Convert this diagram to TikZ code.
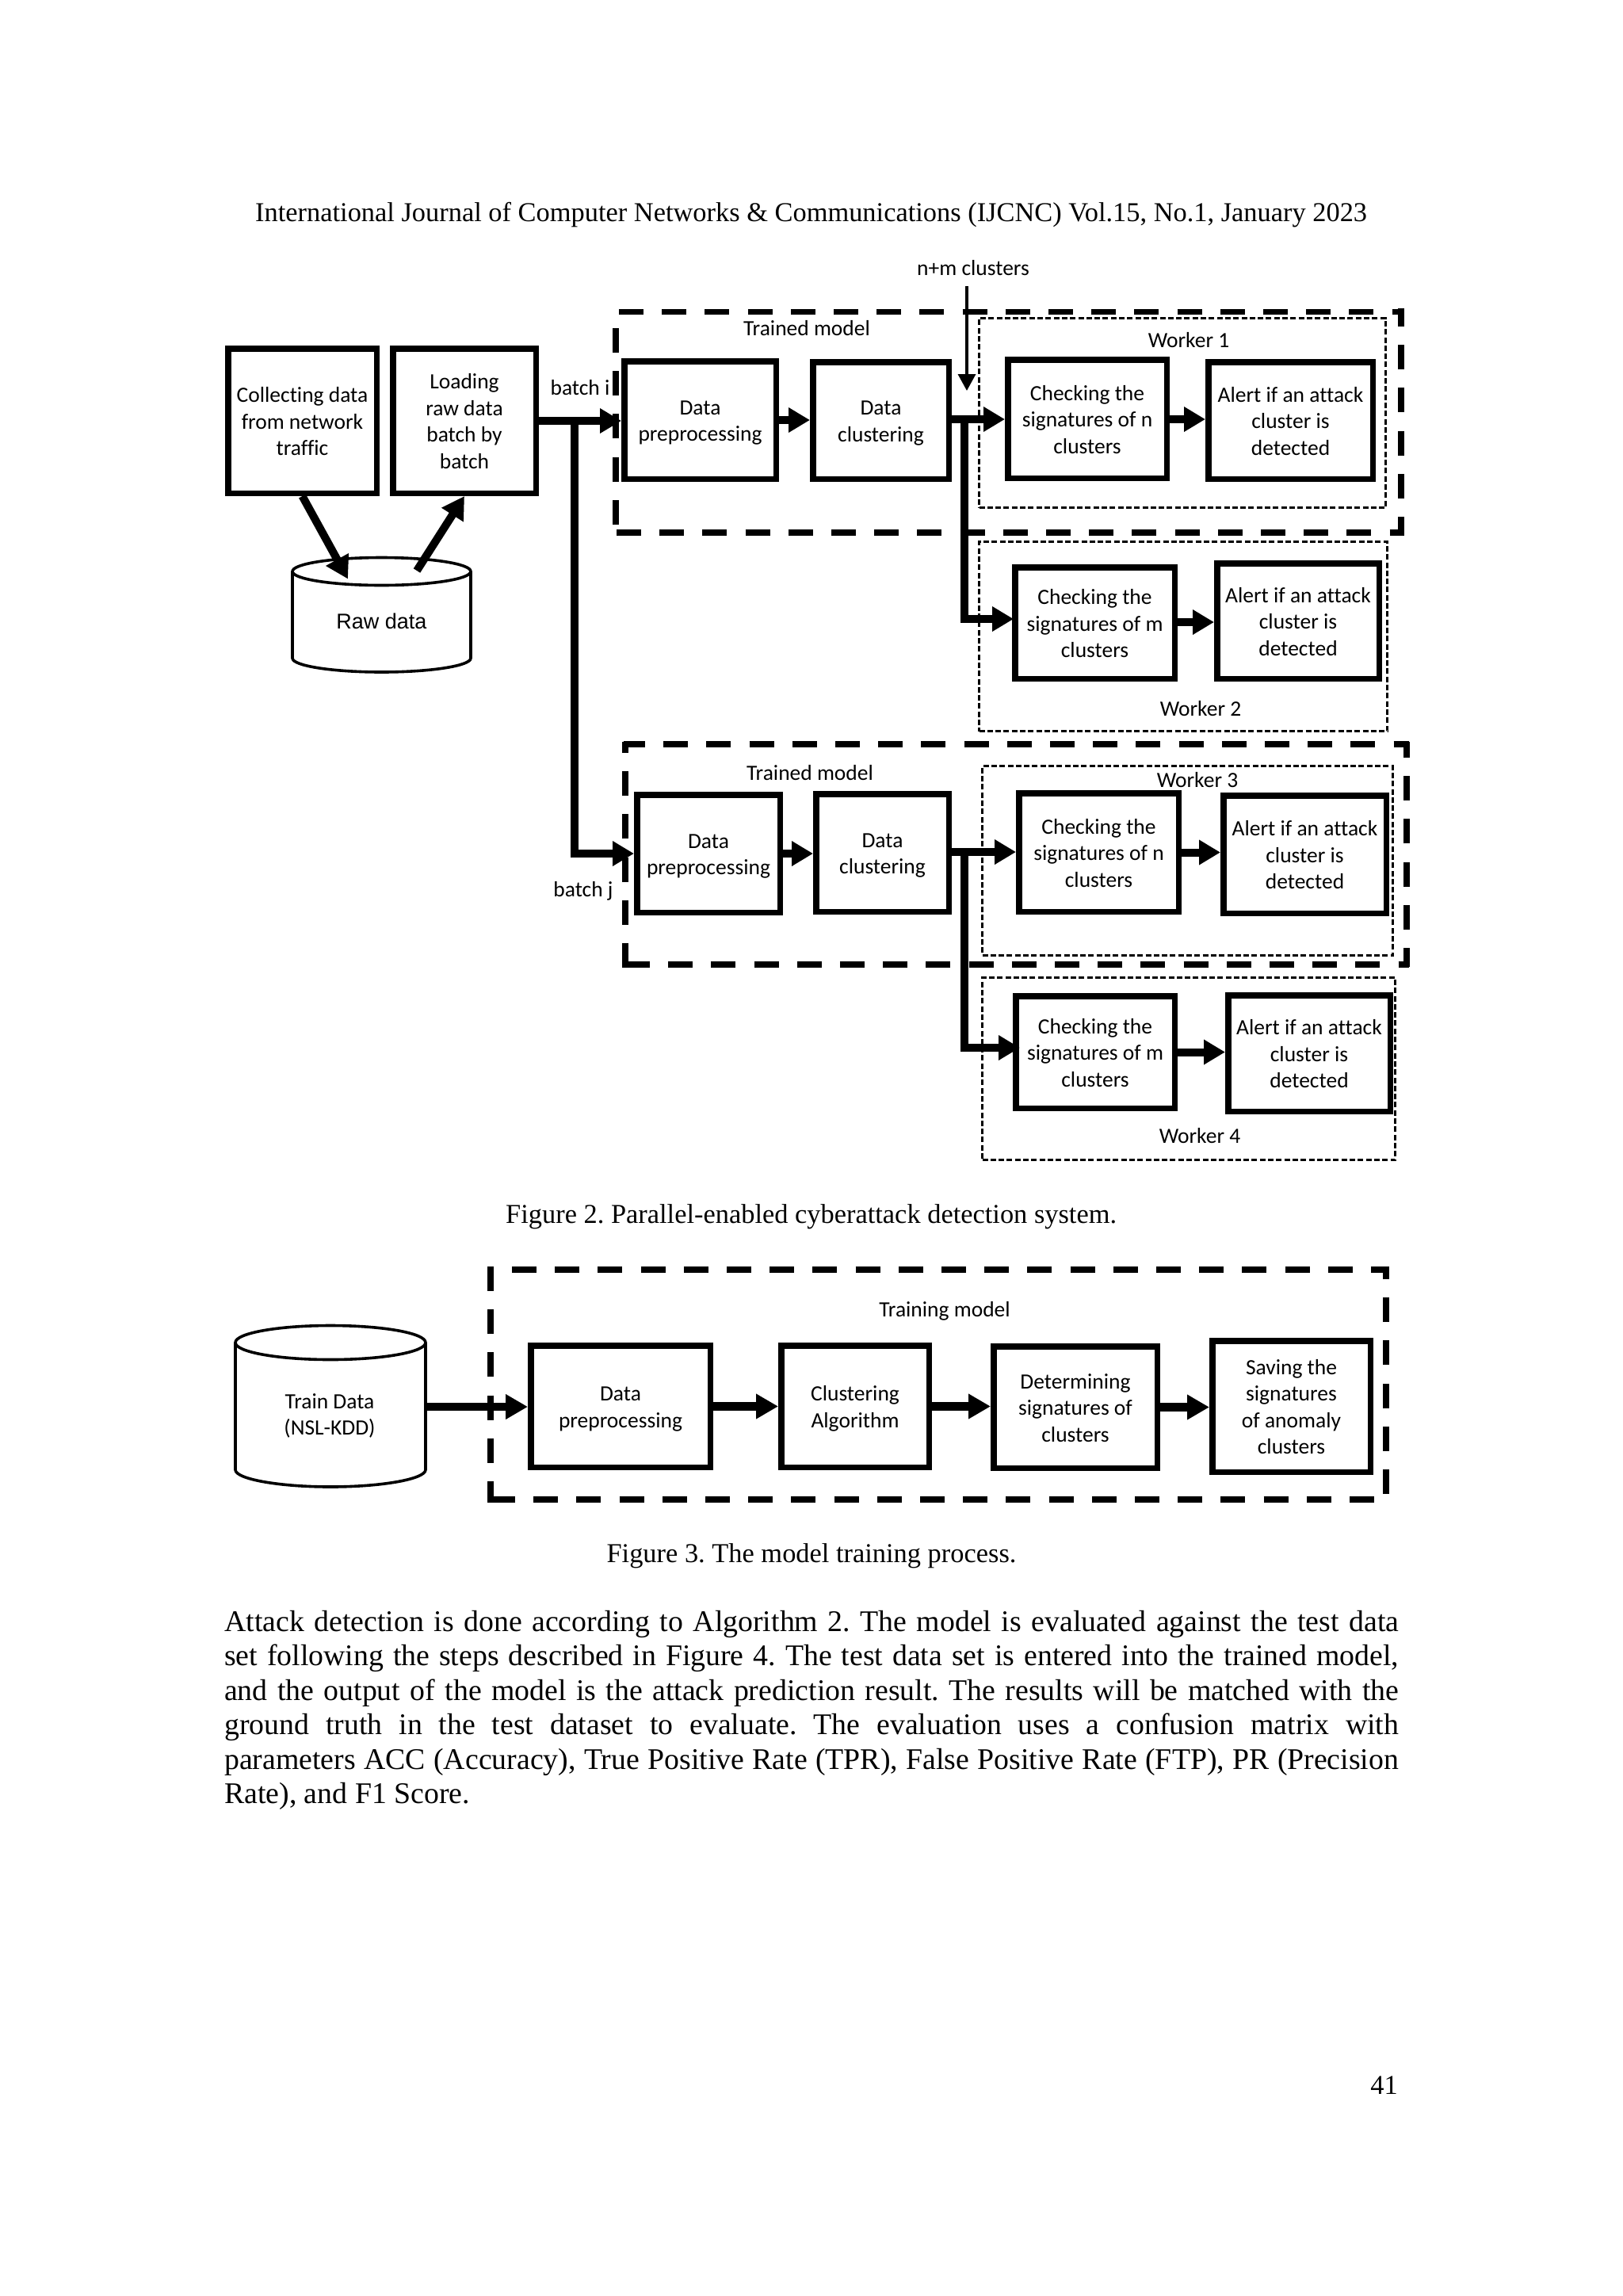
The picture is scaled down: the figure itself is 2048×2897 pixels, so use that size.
\documentclass[tikz,border=0pt]{standalone}
\usepackage{fontspec}
\setmainfont[Ligatures=NoCommon]{Carlito}
\newfontfamily\serifpage{Liberation Serif}
\newfontfamily\arialish{Liberation Sans}
\usetikzlibrary{arrows.meta,calc}
\newcommand\lab{\fontsize{27.5}{33.5}\selectfont}
\newcommand\bodyf{\serifpage\fontsize{37.8}{43.4}\selectfont\frenchspacing}
\newcommand\smallf{\serifpage\fontsize{34.4}{40}\selectfont\frenchspacing}
\tikzset{
  box/.style={draw=black,line width=7.5pt,inner sep=0pt,align=center,font=\lab},
  workerbox/.style={draw=black,line width=3pt,dash pattern=on 7pt off 3.3pt,inner sep=0pt},
  heavydash/.style={draw=black,line width=7.8pt,dash pattern=on 31pt off 23.2pt},
  conn/.style={draw=black,line width=10pt,-{Triangle[length=27pt,width=30pt]}},
  thinconn/.style={draw=black,line width=3.5pt,-{Triangle[length=21pt,width=22pt]}},
  bigconn/.style={draw=black,line width=10.7pt,-{Triangle[length=28pt,width=30pt]}},
  drum/.style={draw=black,line width=3.6pt},
  tag/.style={inner sep=0pt,font=\lab},
  pagetext/.style={inner sep=0pt,anchor=base west,font=\bodyf},
  smalltext/.style={inner sep=0pt,anchor=base west,font=\smallf},
}
\newcommand\bx[6]{\node[box,minimum width={(#4-#2-7.5)*1pt},minimum height={(#5-#3-7.5)*1pt}] (#1) at ({(#2+#4)/2},{(#3+#5)/2}) {\raisebox{-9.7pt}[0pt][0pt]{\begin{tabular}{@{}c@{}}#6\end{tabular}}};}
\newcommand\wk[5]{\node[workerbox,minimum width={(#4-#2-3)*1pt},minimum height={(#5-#3-3)*1pt}] (#1) at ({(#2+#4)/2},{(#3+#5)/2}) {};}
\newcommand\jl[1]{\hbox to 1482pt{#1}}
\begin{document}
\begin{tikzpicture}[x=1pt,y=-1pt]
\useasboundingbox (0,0) rectangle (2048,2897);
\fill[white] (0,0) rectangle (2048,2897);

% page text
\node[smalltext] (head) at (322,279) {International Journal of Computer Networks \& Communications (IJCNC) Vol.15, No.1, January 2023};
\node[smalltext,anchor=base west] (cap2) at (638,1543) {Figure 2. Parallel-enabled cyberattack detection system.};
\node[smalltext,anchor=base] (cap3) at (1024,1971) {Figure 3. The model training process.};
\node[pagetext] (l1) at (283,2058) {\jl{Attack detection is done according to Algorithm 2. The model is evaluated against the test data}};
\node[pagetext] (l2) at (283,2101.5) {\jl{set following the steps described in Figure 4. The test data set is entered into the trained model,}};
\node[pagetext] (l3) at (283,2145) {\jl{and the output of the model is the attack prediction result. The results will be matched with the}};
\node[pagetext] (l4) at (283,2188.5) {\jl{ground truth in the test dataset to evaluate. The evaluation uses a confusion matrix with}};
\node[pagetext] (l5) at (283,2232) {\jl{parameters ACC (Accuracy), True Positive Rate (TPR), False Positive Rate (FTP), PR (Precision}};
\node[pagetext] (l6) at (283,2275) {Rate), and F1 Score.};
\node[smalltext,anchor=base east] (pnum) at (1764,2642) {41};

% Figure 2: heavy dashed frames
\draw[heavydash] (777,414) -- (777,664);
\draw[heavydash] (778,672) -- (1772,672);
\draw[heavydash,dash phase=8pt] (1768,389) -- (1768,676);
\draw[heavydash] (781,393.5) -- (1772,393.5);

\draw[heavydash] (789,1221) -- (789,936);
\draw[heavydash] (789,1217) -- (1778,1217);
\draw[heavydash,dash phase=7pt] (1775,1220) -- (1775,936);
\draw[heavydash,dash phase=4pt] (787,939) -- (1778,939);

% workers
\wk{w1}{1234}{400}{1750}{642}
\wk{w2}{1234}{682}{1752}{924}
\wk{w3}{1238}{965}{1759}{1207}
\wk{w4}{1238}{1232}{1762}{1465}

% boxes
\bx{collect}{284}{436}{479}{626}{Collecting data\\from network\\traffic}
\bx{load}{492}{436}{680}{626}{Loading\\raw data\\batch by\\batch}
\bx{pre1}{784}{452}{983}{608}{Data\\preprocessing}
\bx{clu1}{1022}{453}{1201}{608}{Data\\clustering}
\bx{chk1}{1268}{450}{1476}{607}{Checking the\\signatures of n\\clusters}
\bx{alt1}{1521}{453}{1736}{608}{Alert if an attack\\cluster is\\detected}
\bx{chk2}{1277}{712}{1486}{860}{Checking the\\signatures of m\\clusters}
\bx{alt2}{1532}{707}{1744}{860}{Alert if an attack\\cluster is\\detected}
\bx{pre2}{800}{999}{988}{1155}{Data\\preprocessing}
\bx{clu2}{1026}{998}{1201}{1154}{Data\\clustering}
\bx{chk3}{1282}{997}{1491}{1154}{Checking the\\signatures of n\\clusters}
\bx{alt3}{1540}{1000}{1753}{1156}{Alert if an attack\\cluster is\\detected}
\bx{chk4}{1278}{1253}{1486}{1402}{Checking the\\signatures of m\\clusters}
\bx{alt4}{1546}{1252}{1758}{1406}{Alert if an attack\\cluster is\\detected}

% raw data drum
\draw[drum] (481.5,721) ellipse [x radius=112.5pt,y radius=17.5pt];
\draw[drum] (369,721) -- (369,830.5) .. controls (369,840) and (419,848) .. (481.5,848) .. controls (544,848) and (594,840) .. (594,830.5) -- (594,721);
\node[tag,font=\arialish\fontsize{27}{33.5}\selectfont] (raw) at (481.5,784) {Raw data};
\coordinate (rawin) at (439,730.5);
\coordinate (rawout) at (526,720);

% labels
\node[tag] (batchi) at (732,489.5) {batch i};
\node[tag] (batchj) at (736,1124.5) {batch j};
\node[tag] (tm1) at (1018,414.5) {Trained model};
\node[tag] (tm2) at (1022,975.5) {Trained model};
\node[tag] (nm) at (1228,338.5) {n+m clusters};
\node[tag] (wl1) at (1500,429.5) {Worker 1};
\node[tag] (wl2) at (1515,894.5) {Worker 2};
\node[tag] (wl3) at (1511,984.5) {Worker 3};
\node[tag] (wl4) at (1514,1433.5) {Worker 4};

% connectors figure 2
\draw[conn,-{Triangle[length=28pt,width=31pt]}] (collect.south) -- (rawin);
\draw[conn,-{Triangle[length=28pt,width=31pt]}] (rawout) -- (load.south);
\coordinate (j1) at (725,531);
\coordinate (j2) at (1217,529);
\coordinate (j3) at (1217,1075);
\coordinate (chk2in) at (1279,781);
\coordinate (chk4in) at (1287,1322);
\coordinate (nmtop) at (1220,361);
\coordinate (nmtip) at (1220,493);
\coordinate (lane) at (0,785);
\draw[conn] (load.east) -- (load.east -| pre1.west);
\draw[conn] (j1) |- (pre2.west);
\draw[conn] (pre1.east) -- (pre1.east -| clu1.west);
\draw[conn] (clu1.east |- j2) -- (j2 -| chk1.west);
\draw[conn] (j2) |- (chk2in);
\draw[conn] (chk1.east |- j2) -- (j2 -| alt1.west);
\draw[conn] (chk2.east |- lane) -- (alt2.west |- lane);
\draw[thinconn] (nmtop) -- (nmtip);
\draw[conn] (pre2.east) -- (pre2.east -| clu2.west);
\draw[conn] (clu2.east |- j3) -- (j3 -| chk3.west);
\draw[conn] (j3) |- (chk4in);
\draw[conn] (chk3.east) -- (chk3.east -| alt3.west);
\draw[conn] (chk4.east) -- (chk4.east -| alt4.west);

% Figure 3
\draw[heavydash] (619,1598) -- (619,1896);
\draw[heavydash] (619,1892) -- (1735,1892);
\draw[heavydash] (1749,1885) -- (1749,1598);
\draw[heavydash] (646,1602) -- (1753,1602);
\node[tag] (tm3) at (1192,1654) {Training model};
\draw[drum] (417,1694) ellipse [x radius=120pt,y radius=21.5pt];
\draw[drum] (297,1694) -- (297,1854.5) .. controls (297,1866) and (351,1876) .. (417,1876) .. controls (483,1876) and (537,1866) .. (537,1854.5) -- (537,1694);
\node[tag,align=center] (train) at (416,1786.5) {Train Data\\(NSL-KDD)};
\coordinate (trainout) at (539,1775);
\bx{pre3}{666}{1694}{900}{1855}{Data\\preprocessing}
\bx{clu3}{982}{1694}{1176}{1855}{Clustering\\Algorithm}
\bx{det3}{1250}{1695}{1464}{1856}{Determining\\signatures of\\clusters}
\bx{sav3}{1526}{1688}{1733}{1861}{Saving the\\signatures\\of anomaly\\clusters}
\draw[bigconn] (trainout) -- (trainout -| pre3.west);
\draw[bigconn] (pre3.east) -- (pre3.east -| clu3.west);
\draw[bigconn] (clu3.east) -- (clu3.east -| det3.west);
\draw[bigconn] (det3.east) -- (det3.east -| sav3.west);
\end{tikzpicture}
\end{document}
